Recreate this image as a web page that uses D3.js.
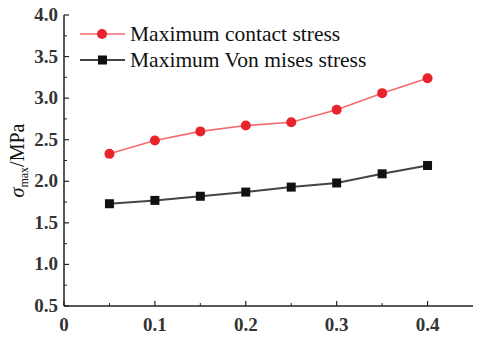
<!DOCTYPE html>
<html>
<head>
<meta charset="utf-8">
<script src="https://cdn.jsdelivr.net/npm/d3@7"></script>
<style>
  body { margin: 0; background: #fff; }
</style>
</head>
<body>
<div id="graph"></div>
<script>
// friction coefficient on x, stress on y
var xValues = [0.05, 0.10, 0.15, 0.20, 0.25, 0.30, 0.35, 0.40];
var contactStress = [2.33, 2.49, 2.60, 2.67, 2.71, 2.86, 3.06, 3.24];
var vonMisesStress = [1.73, 1.77, 1.82, 1.87, 1.93, 1.98, 2.09, 2.19];
var xTicks = [0, 0.1, 0.2, 0.3, 0.4];
var yTicks = [0.5, 1.0, 1.5, 2.0, 2.5, 3.0, 3.5, 4.0];
var seriesNames = ["Maximum contact stress", "Maximum Von mises stress"];

var serif = "'Liberation Serif', 'Times New Roman', 'DejaVu Serif', serif";

window.onload = start;

function start() {
    var width = 480;
    var height = 340;
    var left = 64, top = 15, right = 473, bottom = 306;

    var svg = d3.select('#graph')
        .append('svg')
        .attr('width', width)
        .attr('height', height)
        .style('font-family', serif);

    var x = d3.scaleLinear().domain([0, 0.45]).range([left, right]);
    var y = d3.scaleLinear().domain([0.5, 4.0]).range([bottom, top]);

    // axis lines
    svg.append('line')
        .attr('x1', left).attr('x2', left)
        .attr('y1', y(4.0)).attr('y2', bottom)
        .attr('stroke', '#222').attr('stroke-width', 1.5);
    svg.append('line')
        .attr('x1', left).attr('x2', right)
        .attr('y1', bottom).attr('y2', bottom)
        .attr('stroke', '#222').attr('stroke-width', 1.5);

    // ticks, inward; minor ticks halfway
    var yMinor = d3.range(0.75, 4.0, 0.5);
    var xMinor = [0.05, 0.15, 0.25, 0.35];

    svg.append('g').selectAll('line')
        .data(yTicks).enter().append('line')
        .attr('x1', left).attr('x2', left + 5)
        .attr('y1', function(d) { return y(d); })
        .attr('y2', function(d) { return y(d); })
        .attr('stroke', '#222').attr('stroke-width', 1.2);
    svg.append('g').selectAll('line')
        .data(yMinor).enter().append('line')
        .attr('x1', left).attr('x2', left + 3)
        .attr('y1', function(d) { return y(d); })
        .attr('y2', function(d) { return y(d); })
        .attr('stroke', '#222').attr('stroke-width', 1);
    svg.append('g').selectAll('line')
        .data(xTicks).enter().append('line')
        .attr('x1', function(d) { return x(d); })
        .attr('x2', function(d) { return x(d); })
        .attr('y1', bottom).attr('y2', bottom - 5)
        .attr('stroke', '#222').attr('stroke-width', 1.2);
    svg.append('g').selectAll('line')
        .data(xMinor).enter().append('line')
        .attr('x1', function(d) { return x(d); })
        .attr('x2', function(d) { return x(d); })
        .attr('y1', bottom).attr('y2', bottom - 3)
        .attr('stroke', '#222').attr('stroke-width', 1);

    // tick labels
    svg.append('g').selectAll('text')
        .data(yTicks).enter().append('text')
        .attr('x', left - 6)
        .attr('y', function(d) { return y(d) + 6; })
        .attr('text-anchor', 'end')
        .attr('font-size', 19)
        .attr('font-weight', 'bold')
        .attr('fill', '#333')
        .text(function(d) { return d3.format('.1f')(d); });
    svg.append('g').selectAll('text')
        .data(xTicks).enter().append('text')
        .attr('x', function(d) { return x(d); })
        .attr('y', bottom + 25)
        .attr('text-anchor', 'middle')
        .attr('font-size', 19)
        .attr('font-weight', 'bold')
        .attr('fill', '#333')
        .text(function(d) { return d === 0 ? '0' : d3.format('.1f')(d); });

    // y axis title
    var yTitle = svg.append('text')
        .attr('transform', 'translate(24,' + ((top + bottom) / 2) + ') rotate(-90)')
        .attr('text-anchor', 'middle')
        .attr('font-size', 20)
        .attr('fill', '#111');
    yTitle.append('tspan').attr('font-style', 'italic').text('σ');
    yTitle.append('tspan').attr('font-size', 12).attr('dy', 4).text('max');
    yTitle.append('tspan').attr('dy', -4).text('/MPa');

    var line = d3.line()
        .x(function(d) { return x(d[0]); })
        .y(function(d) { return y(d[1]); });

    var redPts = xValues.map(function(v, i) { return [v, contactStress[i]]; });
    var blackPts = xValues.map(function(v, i) { return [v, vonMisesStress[i]]; });

    svg.append('path').datum(blackPts)
        .attr('d', line).attr('fill', 'none')
        .attr('stroke', '#444').attr('stroke-width', 2);
    svg.append('g').selectAll('rect')
        .data(blackPts).enter().append('rect')
        .attr('x', function(d) { return x(d[0]) - 4.5; })
        .attr('y', function(d) { return y(d[1]) - 4.5; })
        .attr('width', 9).attr('height', 9)
        .attr('fill', '#111');

    svg.append('path').datum(redPts)
        .attr('d', line).attr('fill', 'none')
        .attr('stroke', '#f46a6f').attr('stroke-width', 1.6);
    svg.append('g').selectAll('circle')
        .data(redPts).enter().append('circle')
        .attr('cx', function(d) { return x(d[0]); })
        .attr('cy', function(d) { return y(d[1]); })
        .attr('r', 5)
        .attr('fill', '#e8232c');

    // legend
    var legend = svg.append('g');
    var ly = [34, 60];
    legend.append('line')
        .attr('x1', 80).attr('x2', 125).attr('y1', ly[0]).attr('y2', ly[0])
        .attr('stroke', '#f46a6f').attr('stroke-width', 1.6);
    legend.append('circle')
        .attr('cx', 102).attr('cy', ly[0]).attr('r', 5).attr('fill', '#e8232c');
    legend.append('line')
        .attr('x1', 80).attr('x2', 125).attr('y1', ly[1]).attr('y2', ly[1])
        .attr('stroke', '#444').attr('stroke-width', 2);
    legend.append('rect')
        .attr('x', 98).attr('y', ly[1] - 4.5).attr('width', 9).attr('height', 9)
        .attr('fill', '#111');
    legend.selectAll('text')
        .data(seriesNames).enter().append('text')
        .attr('x', 130)
        .attr('y', function(d, i) { return ly[i] + 7; })
        .attr('font-size', 21.5)
        .attr('fill', '#111')
        .text(function(d) { return d; });
}
</script>
</body>
</html>
